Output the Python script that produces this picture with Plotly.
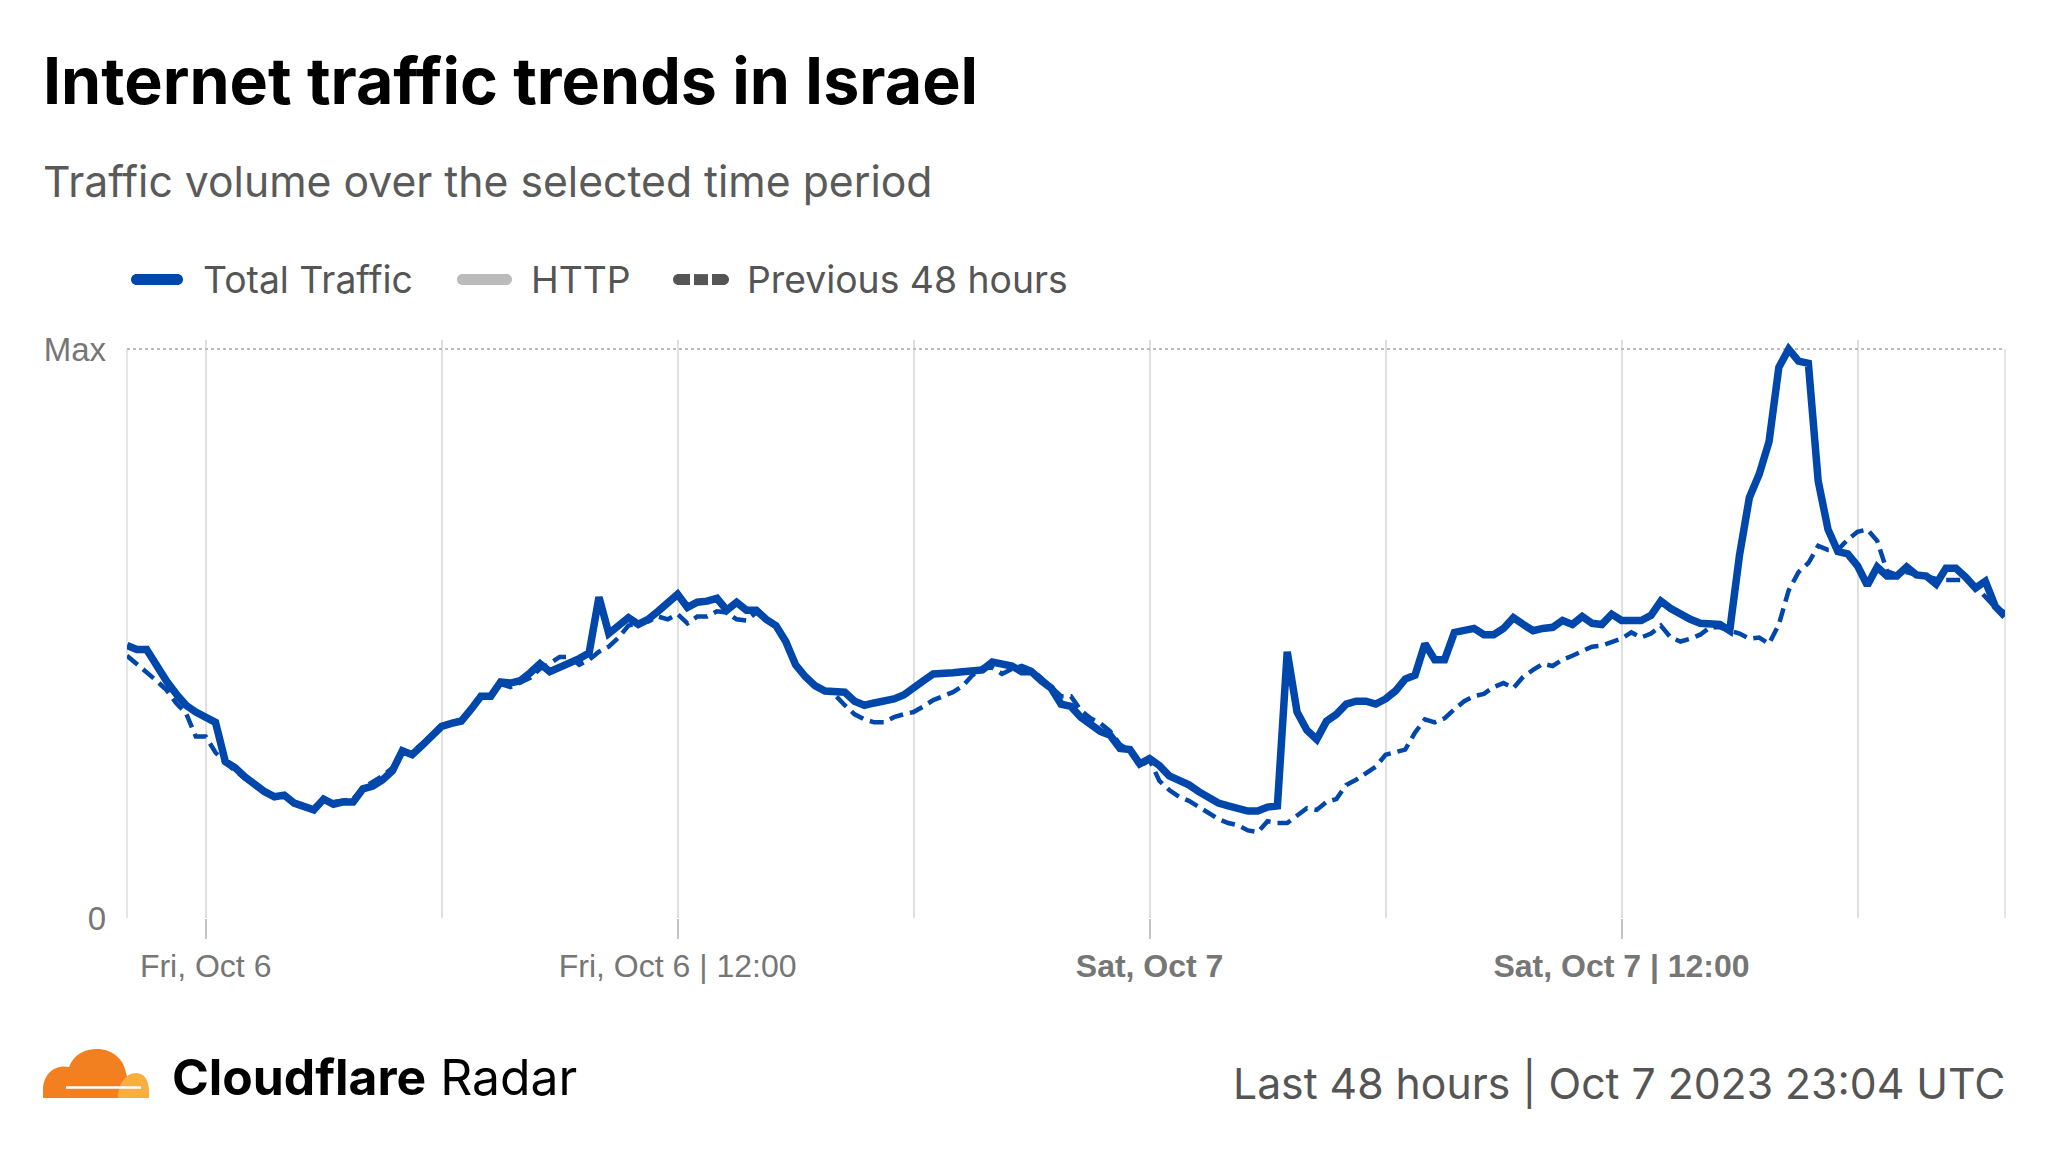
import plotly.graph_objects as go
import pandas as pd

# ---------------- data ----------------
start_time = "2023-10-05 22:00"
n_points = 192
times = pd.date_range(start=start_time, periods=n_points, freq="15min")

# traffic volume, percent of the period maximum
total_traffic = [
    47.9, 47.2, 47.2, 44.3, 41.7, 39.4, 37.4, 36.2, 35.3, 34.4,
    27.5, 26.4, 24.8, 23.4, 22.2, 21.3, 21.6, 20.2, 19.7, 19.0,
    20.9, 20.0, 20.4, 20.4, 22.7, 23.2, 24.3, 25.9, 29.4, 28.7,
    30.3, 31.9, 33.7, 34.2, 34.6, 36.7, 39.0, 39.0, 41.5, 41.3,
    41.7, 43.1, 44.7, 43.3, 44.0, 45.0, 45.6, 46.6, 56.4, 50.0,
    51.4, 52.8, 51.6, 52.5, 53.9, 55.3, 56.9, 54.6, 55.5, 55.7,
    56.2, 54.1, 55.5, 54.1, 54.1, 52.5, 51.4, 48.6, 44.5, 42.4,
    40.8, 39.9, 39.7, 39.7, 38.1, 37.4, 37.8, 38.1, 38.5, 39.2,
    40.6, 41.7, 42.9, 42.9, 43.1, 43.3, 43.6, 43.6, 45.0, 44.7,
    44.3, 43.3, 43.3, 41.7, 40.4, 37.6, 37.2, 35.3, 33.9, 32.8,
    32.1, 29.8, 29.6, 27.1, 28.0, 26.8, 25.0, 24.3, 23.4, 22.2,
    21.1, 20.2, 19.7, 19.2, 18.8, 18.8, 19.5, 19.7, 46.8, 36.2,
    33.0, 31.4, 34.6, 35.8, 37.6, 38.1, 38.1, 37.6, 38.5, 39.9,
    42.0, 42.7, 48.2, 45.4, 45.4, 50.2, 50.5, 50.9, 49.8, 49.8,
    50.9, 52.8, 51.6, 50.5, 50.9, 51.1, 52.3, 51.6, 53.0, 51.8,
    51.6, 53.4, 52.3, 52.3, 52.3, 53.2, 55.7, 54.4, 53.4, 52.5,
    51.8, 51.8, 51.6, 50.5, 63.8, 73.9, 78.0, 83.7, 96.8, 100.0,
    97.9, 97.5, 76.8, 68.3, 64.4, 64.0, 61.9, 58.5, 61.7, 60.1,
    60.1, 61.7, 60.3, 60.1, 58.7, 61.5, 61.5, 59.9, 58.0, 59.2,
    54.8, 53.0,
]

previous_48h = [
    46.1, 44.7, 43.1, 41.7, 40.1, 37.8, 36.0, 31.9, 31.9, 29.1,
    27.3, 25.9, 24.5, 23.4, 22.2, 21.6, 21.3, 20.4, 19.7, 19.5,
    20.6, 20.4, 20.6, 20.9, 22.9, 23.9, 25.0, 26.4, 28.9, 29.1,
    30.5, 32.1, 33.9, 34.4, 34.9, 36.7, 38.5, 39.2, 41.1, 40.6,
    41.5, 42.2, 43.8, 44.7, 45.9, 45.9, 44.5, 45.4, 46.8, 47.7,
    49.3, 51.4, 51.8, 52.1, 53.0, 52.5, 53.4, 51.8, 53.0, 53.0,
    53.9, 53.7, 52.5, 52.3, 53.7, 52.5, 51.1, 48.4, 44.5, 42.4,
    40.8, 39.9, 39.2, 37.4, 35.8, 34.9, 34.4, 34.4, 35.3, 35.8,
    36.2, 37.2, 38.3, 39.0, 39.7, 40.8, 42.7, 44.0, 44.0, 42.9,
    43.8, 44.3, 43.6, 42.2, 40.6, 39.0, 39.0, 36.5, 35.1, 34.2,
    32.8, 30.5, 29.4, 26.6, 27.8, 24.1, 22.5, 21.3, 20.6, 19.5,
    18.3, 17.4, 16.7, 16.3, 15.4, 15.1, 17.0, 16.7, 16.7, 17.9,
    19.3, 19.0, 20.4, 20.9, 23.4, 24.3, 25.5, 26.6, 28.7, 29.1,
    29.6, 32.6, 34.9, 34.4, 35.1, 36.7, 38.1, 39.0, 39.4, 40.6,
    41.3, 40.4, 42.4, 43.6, 44.7, 44.3, 45.4, 46.1, 47.0, 47.7,
    47.9, 48.4, 49.1, 50.2, 49.3, 50.0, 51.4, 49.3, 48.6, 49.1,
    49.8, 51.1, 51.1, 50.5, 50.0, 49.1, 49.3, 48.2, 51.6, 57.6,
    60.8, 62.4, 65.4, 64.7, 64.7, 66.5, 67.9, 68.3, 66.3, 61.0,
    60.3, 60.8, 60.3, 60.1, 59.6, 59.4, 59.4, 59.4, 58.3, 56.4,
    54.6, 53.7,
]

x_tick_vals = ["2023-10-06 00:00", "2023-10-06 12:00", "2023-10-07 00:00", "2023-10-07 12:00"]
x_tick_text = ["Fri, Oct 6", "Fri, Oct 6 | 12:00", "<b>Sat, Oct 7</b>", "<b>Sat, Oct 7 | 12:00</b>"]
y_tick_vals = [0, 100]
y_tick_text = ["0", "Max"]
legend_labels = ["Total Traffic", "HTTP", "Previous 48 hours"]

title_text = "Internet traffic trends in Israel"
subtitle_text = "Traffic volume over the selected time period"
footer_text = "Last 48 hours | Oct 7 2023 23:04 UTC"

# ---------------- styling / layout ----------------
BLUE = "#0047AB"
GRID = "#e0e0e0"
W, H = 2048, 1152
PL, PR = 127, 2005          # plot left/right pixels
PB = 918                    # pixel of value 0
P100 = 349                  # pixel of value 100
Y_TOP = 101.6               # a little headroom so the peak is not clipped
PT = PB - (PB - P100) * Y_TOP / 100.0


def px(x):
    return (x - PL) / (PR - PL)


def py(y):
    return (PB - y) / (PB - PT)


def pt(x, y):
    return f"{px(x):.5f},{py(y):.5f}"


def rounded_bar(x0, x1, yc, h, left_round=True, right_round=True):
    r = h / 2.0
    k = 0.5523 * r
    parts = []
    if left_round:
        parts.append(f"M {pt(x0 + r, yc - r)}")
    else:
        parts.append(f"M {pt(x0, yc - r)}")
    if right_round:
        parts.append(f"L {pt(x1 - r, yc - r)}")
        parts.append(f"C {pt(x1 - r + k, yc - r)} {pt(x1, yc - k)} {pt(x1, yc)}")
        parts.append(f"C {pt(x1, yc + k)} {pt(x1 - r + k, yc + r)} {pt(x1 - r, yc + r)}")
    else:
        parts.append(f"L {pt(x1, yc - r)}")
        parts.append(f"L {pt(x1, yc + r)}")
    if left_round:
        parts.append(f"L {pt(x0 + r, yc + r)}")
        parts.append(f"C {pt(x0 + r - k, yc + r)} {pt(x0, yc + k)} {pt(x0, yc)}")
        parts.append(f"C {pt(x0, yc - k)} {pt(x0 + r - k, yc - r)} {pt(x0 + r, yc - r)}")
    else:
        parts.append(f"L {pt(x0, yc + r)}")
    parts.append("Z")
    return " ".join(parts)


fig = go.Figure()

fig.add_trace(go.Scatter(
    x=times, y=previous_48h, mode="lines", name=legend_labels[2],
    line=dict(color=BLUE, width=4.5, dash="14px,7px"), showlegend=False,
))
fig.add_trace(go.Scatter(
    x=times, y=total_traffic, mode="lines", name=legend_labels[0],
    line=dict(color=BLUE, width=7.5), showlegend=False,
))

shapes = []
# plot side borders
for xp in (0, 1):
    shapes.append(dict(type="line", xref="paper", yref="y", x0=xp, x1=xp, y0=0, y1=100,
                       line=dict(color="#dddddd", width=1.5), layer="below"))

# legend symbols
LEG_Y = 279.5
shapes.append(dict(type="path", xref="paper", yref="paper",
                   path=rounded_bar(131, 183, LEG_Y, 11), fillcolor=BLUE,
                   line=dict(width=0)))
shapes.append(dict(type="path", xref="paper", yref="paper",
                   path=rounded_bar(457, 512, LEG_Y, 11), fillcolor="#bbbbbb",
                   line=dict(width=0)))
for (a, b, lr, rr) in [(673, 690, True, False), (694, 708, False, False), (712, 729, False, True)]:
    shapes.append(dict(type="path", xref="paper", yref="paper",
                       path=rounded_bar(a, b, LEG_Y, 11, lr, rr), fillcolor="#555555",
                       line=dict(width=0)))

# Cloudflare cloud logo
cloud_main = " ".join([
    f"M {pt(43, 1098)}",
    f"L {pt(43, 1090)}",
    f"C {pt(43, 1074)} {pt(55, 1064)} {pt(69, 1067)}",
    f"C {pt(74, 1054)} {pt(85, 1049)} {pt(97, 1049)}",
    f"C {pt(112, 1049)} {pt(124, 1059)} {pt(126, 1073)}",
    f"C {pt(129, 1081)} {pt(129, 1090)} {pt(127, 1098)}",
    "Z",
])
cloud_light = " ".join([
    f"M {pt(118, 1098)}",
    f"C {pt(118, 1085)} {pt(125, 1073)} {pt(136, 1073)}",
    f"C {pt(145, 1073)} {pt(149, 1082)} {pt(149, 1091)}",
    f"L {pt(149, 1098)}",
    "Z",
])
shapes.append(dict(type="path", xref="paper", yref="paper", path=cloud_main,
                   fillcolor="#F38020", line=dict(width=0)))
shapes.append(dict(type="path", xref="paper", yref="paper", path=cloud_light,
                   fillcolor="#FAAE40", line=dict(width=0)))
shapes.append(dict(type="line", xref="paper", yref="paper",
                   x0=px(66), x1=px(141), y0=py(1087.5), y1=py(1087.5),
                   line=dict(color="white", width=2.5)))

annotations = []


def label(text, x, y, size, color, family="Inter", xanchor="left"):
    annotations.append(dict(
        text=text, x=px(x), y=py(y), xref="paper", yref="paper",
        xanchor=xanchor, yanchor="middle", showarrow=False,
        font=dict(family=family, size=size, color=color),
    ))


label(f"<b>{title_text}</b>", 41, 81, 64.5, "#000000")
label(subtitle_text, 41, 181, 42.7, "#5a5a5a")
label(legend_labels[0], 201, LEG_Y, 37.3, "#555555")
label(legend_labels[1], 529, LEG_Y, 37.3, "#555555")
label(legend_labels[2], 745, LEG_Y, 37.3, "#555555")
label("<b>Cloudflare</b> Radar", 170, 1077, 49.8, "#000000")
label(footer_text, 2007, 1083, 42.7, "#555555", xanchor="right")

fig.update_layout(
    width=W, height=H,
    margin=dict(l=PL, r=W - PR, t=round(PT), b=H - PB, pad=0),
    paper_bgcolor="white", plot_bgcolor="white",
    showlegend=False,
    shapes=shapes, annotations=annotations,
    xaxis=dict(
        type="date", range=[times[0], times[-1]],
        tickmode="array", tickvals=x_tick_vals, ticktext=x_tick_text,
        ticks="outside", ticklen=20, tickwidth=2, tickcolor="#c4c4c4",
        showgrid=True, gridcolor=GRID, gridwidth=1.5,
        minor=dict(tickmode="linear", tick0="2023-10-06 00:00", dtick=6 * 3600 * 1000,
                   showgrid=True, gridcolor=GRID, gridwidth=1.5, ticks=""),
        showline=False, zeroline=False,
        tickfont=dict(family="Liberation Sans", size=32, color="#767676"),
        ticklabelstandoff=0,
    ),
    yaxis=dict(
        range=[0, Y_TOP], tickmode="array", tickvals=y_tick_vals, ticktext=y_tick_text,
        showgrid=True, gridcolor="#bdbdbd", gridwidth=2, griddash="dot",
        showline=False, zeroline=False, ticks="",
        tickfont=dict(family="Liberation Sans", size=33, color="#767676"),
        ticklabelstandoff=20,
    ),
)

fig.write_html("out.html")
